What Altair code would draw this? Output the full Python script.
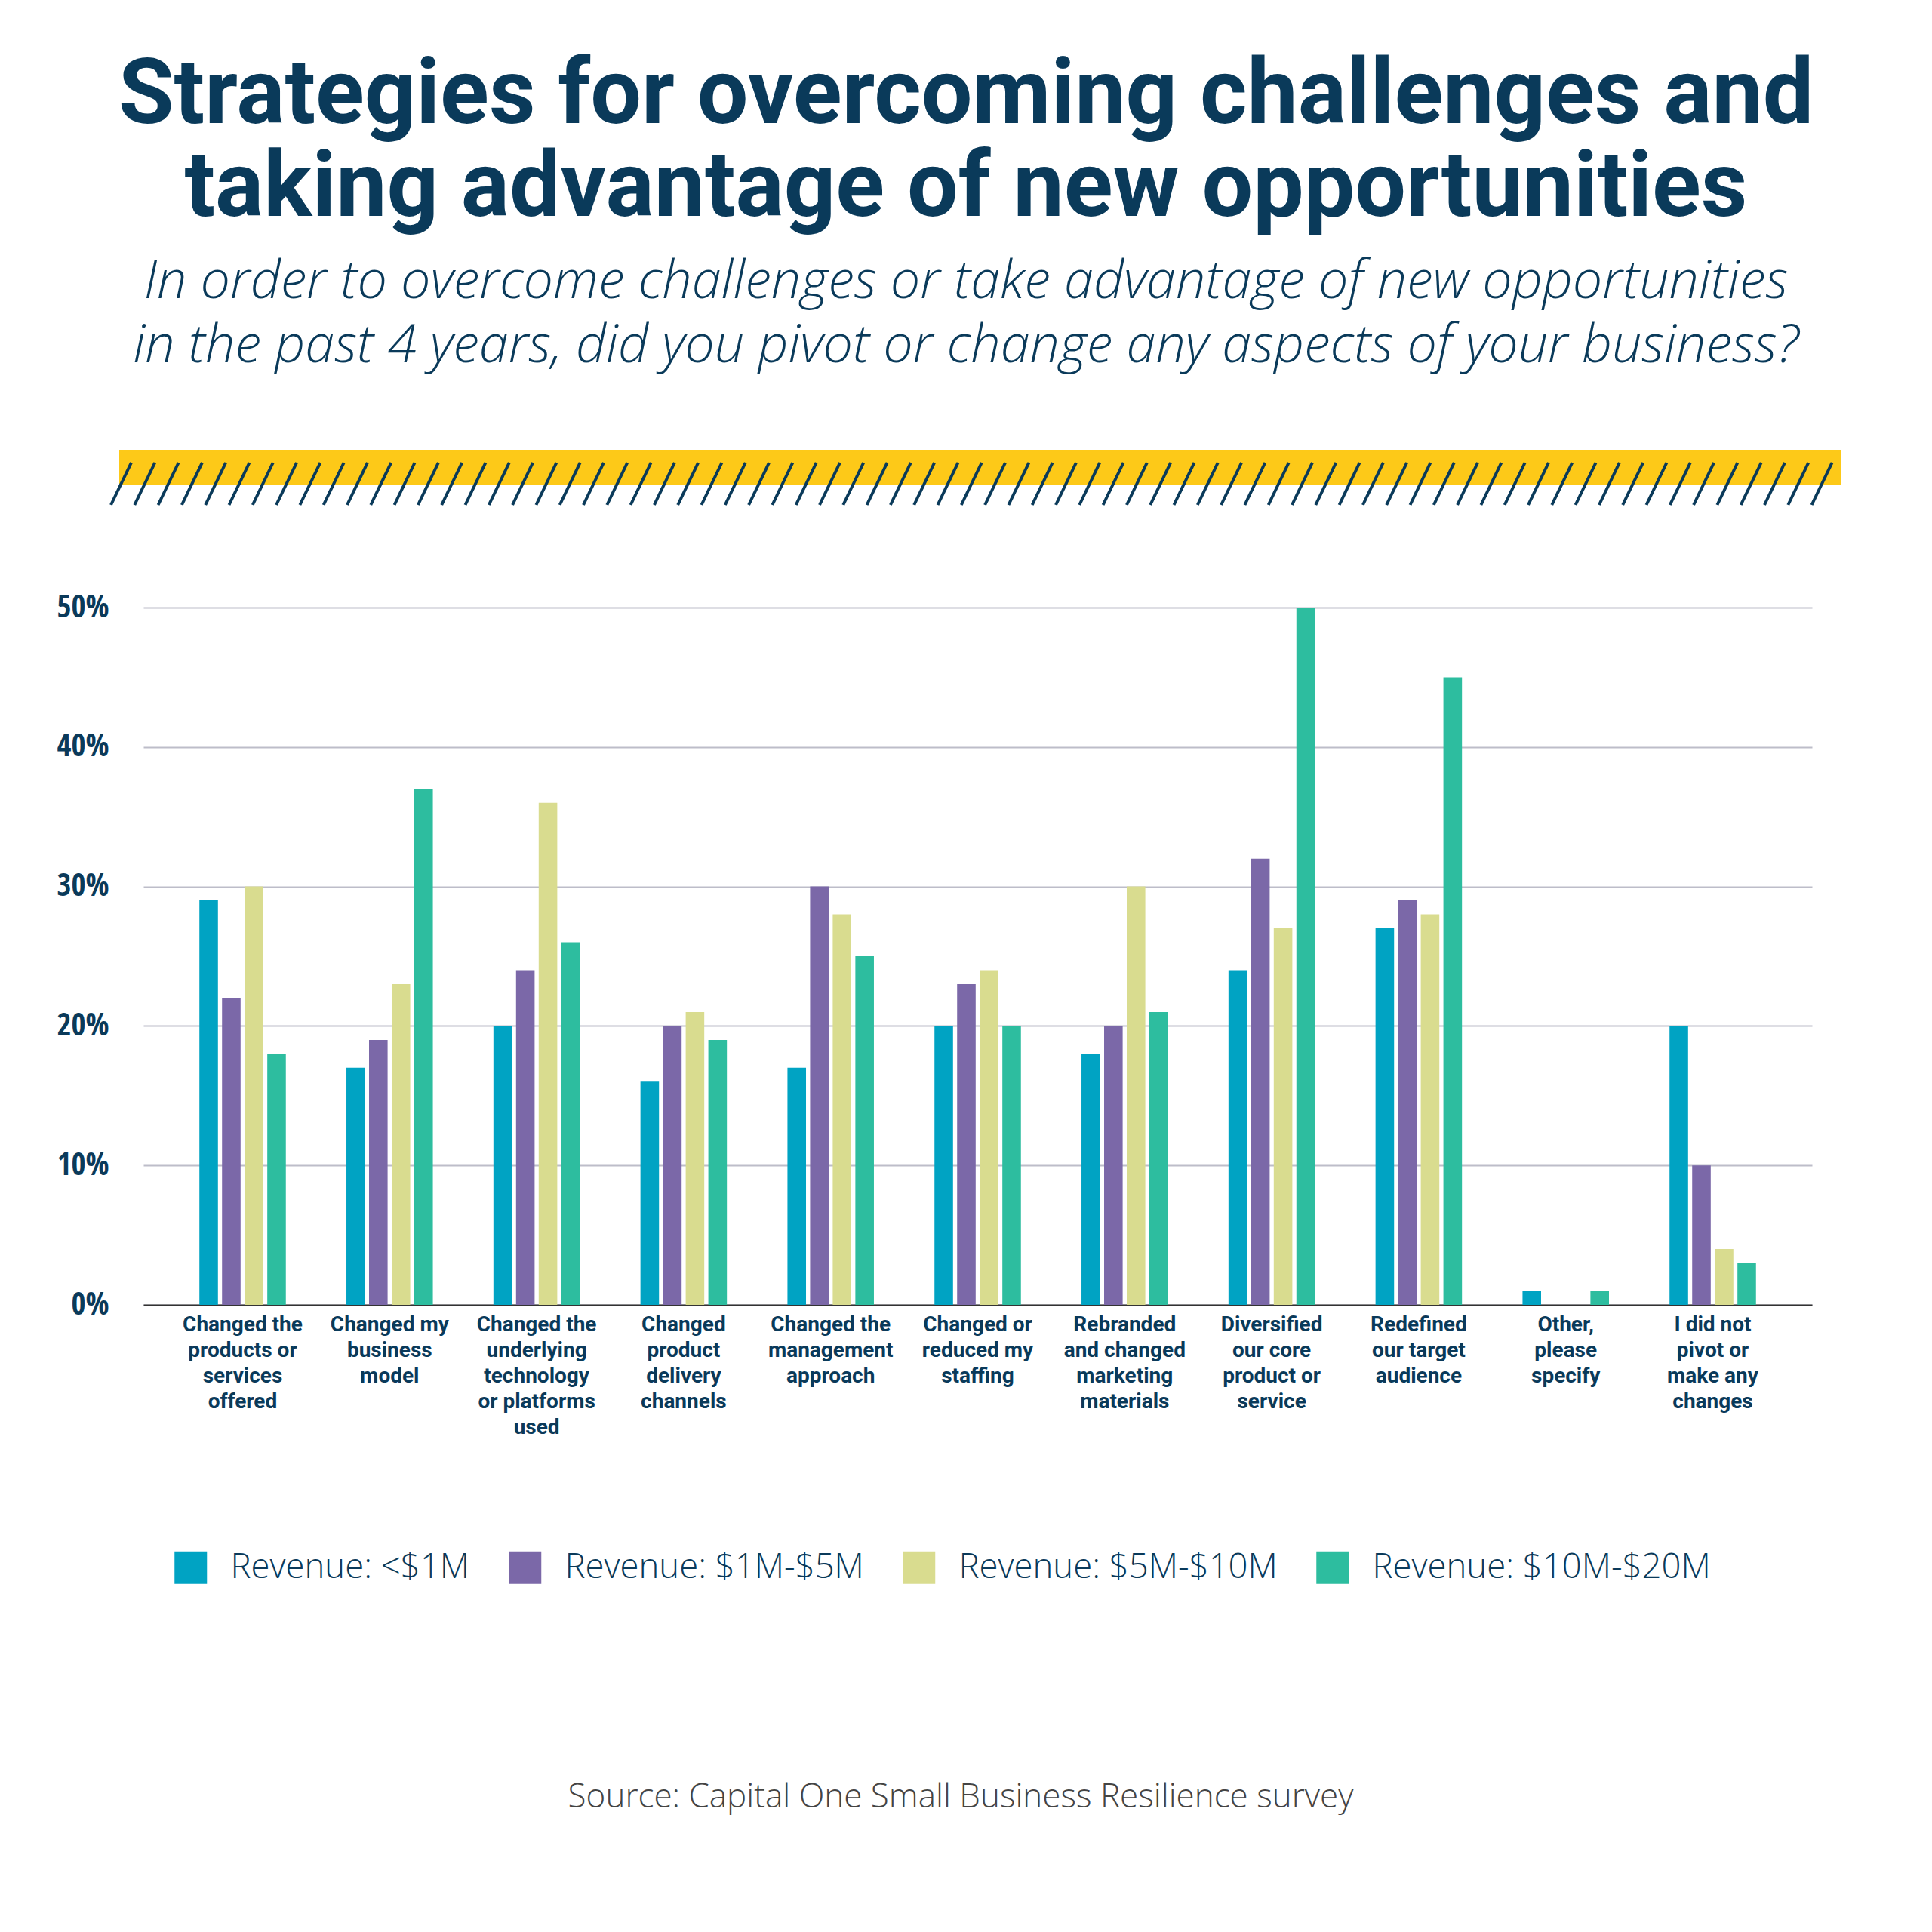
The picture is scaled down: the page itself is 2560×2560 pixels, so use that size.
import altair as alt
import pandas as pd

categories = [
    "Changed the|products or|services|offered",
    "Changed my|business|model",
    "Changed the|underlying|technology|or platforms|used",
    "Changed|product|delivery|channels",
    "Changed the|management|approach",
    "Changed or|reduced my|staffing",
    "Rebranded|and changed|marketing|materials",
    "Diversified|our core|product or|service",
    "Redefined|our target|audience",
    "Other,|please|specify",
    "I did not|pivot or|make any|changes",
]
series = ["Revenue: <$1M", "Revenue: $1M-$5M", "Revenue: $5M-$10M", "Revenue: $10M-$20M"]
rev_under_1m = [29, 17, 20, 16, 17, 20, 18, 24, 27, 1, 20]
rev_1m_5m = [22, 19, 24, 20, 30, 23, 20, 32, 29, 0, 10]
rev_5m_10m = [30, 23, 36, 21, 28, 24, 30, 27, 28, 0, 4]
rev_10m_20m = [18, 37, 26, 19, 25, 20, 21, 50, 45, 1, 3]
colors = ["#00a3c3", "#7b68a8", "#d9dc8f", "#2dbd9f"]
y_ticks = [0, 10, 20, 30, 40, 50]

title_lines = ["Strategies for overcoming challenges and", "taking advantage of new opportunities"]
subtitle_lines = ["In order to overcome challenges or take advantage of new opportunities",
                  "in the past 4 years, did you pivot or change any aspects of your business?"]
source_text = "Source: Capital One Small Business Resilience survey"

NAVY = "#0a3a5a"

rows = []
for s, vals in zip(series, [rev_under_1m, rev_1m_5m, rev_5m_10m, rev_10m_20m]):
    for c, v in zip(categories, vals):
        rows.append({"category": c, "series": s, "value": v})
df = pd.DataFrame(rows)

one = alt.Data(values=[{}])

bars = alt.Chart(df).mark_bar().encode(
    x=alt.X("category:N", sort=categories, title=None,
            scale=alt.Scale(paddingInner=0.412, paddingOuter=0.381),
            axis=alt.Axis(labelExpr="split(datum.label, '|')", labelAngle=0,
                          labelFont="Roboto", labelFontSize=28, labelFontWeight="bold",
                          labelColor=NAVY, labelLineHeight=34, labelPadding=12,
                          labelBaseline="top", labelLimit=500, labelOverlap=False,
                          ticks=False, grid=False, domainColor="#333333", domainWidth=2)),
    xOffset=alt.XOffset("series:N", sort=series,
                        scale=alt.Scale(paddingInner=0.18, paddingOuter=0)),
    y=alt.Y("value:Q", title=None, scale=alt.Scale(domain=[0, 50]),
            axis=alt.Axis(values=y_ticks, labelExpr="datum.value + '%'",
                          labelFont="Open Sans Condensed", labelFontSize=41,
                          labelFontWeight="bold",
                          labelColor=NAVY, labelPadding=46, ticks=False, domain=False,
                          gridColor="#bdbdc9", gridWidth=2)),
    color=alt.Color("series:N", sort=series,
                    scale=alt.Scale(domain=series, range=colors),
                    legend=alt.Legend(title=None, orient="none", legendX=40, legendY=1249,
                                      direction="horizontal", columns=4,
                                      symbolType="square", symbolSize=1849,
                                      symbolStrokeWidth=0, symbolOpacity=1,
                                      labelFont="Open Sans", labelFontWeight=300,
                                      labelFontSize=45.5, labelColor=NAVY,
                                      labelOffset=30, columnPadding=50, labelLimit=600)),
)

band = alt.Chart(one).mark_rect(color="#fdc918").encode(
    x=alt.value(-32), x2=alt.value(2250), y=alt.value(-209), y2=alt.value(-162))

slashes = alt.Chart(alt.sequence(0, 73, as_="i")).transform_calculate(
    xb="-43 + 31.3 * datum.i", xt="-16 + 31.3 * datum.i"
).mark_rule(color=NAVY, strokeWidth=4).encode(
    x=alt.X("xb:Q", scale=None, axis=None), x2="xt:Q",
    y=alt.value(-136), y2=alt.value(-192))

title = alt.Chart(one).mark_text(font="Roboto", fontWeight="bold", fontSize=120,
                                 color=NAVY, align="center", baseline="alphabetic",
                                 lineHeight=123).encode(
    x=alt.value(1090), y=alt.value(163 - 805), text=alt.value(title_lines))

subtitle = alt.Chart(one).mark_text(font="Open Sans", fontStyle="italic", fontWeight=300,
                                    fontSize=70, color=NAVY, align="center",
                                    baseline="alphabetic", lineHeight=85).encode(
    x=alt.value(1090), y=alt.value(395 - 805), text=alt.value(subtitle_lines))

source = alt.Chart(one).mark_text(font="Open Sans", fontWeight=300, fontSize=44,
                                  color="#444444", align="center",
                                  baseline="alphabetic").encode(
    x=alt.value(1083), y=alt.value(2395 - 805), text=alt.value(source_text))

chart = alt.layer(band, slashes, bars, title, subtitle, source).resolve_scale(
    x="independent"
).properties(
    width=2211, height=924, autosize="none",
    padding={"left": 190, "top": 805, "right": 159, "bottom": 831},
).configure(
    background="white",
    view=alt.ViewConfig(stroke="transparent", strokeWidth=0),
)

chart.save("out.html", embed_options={"renderer": "svg", "actions": False})
